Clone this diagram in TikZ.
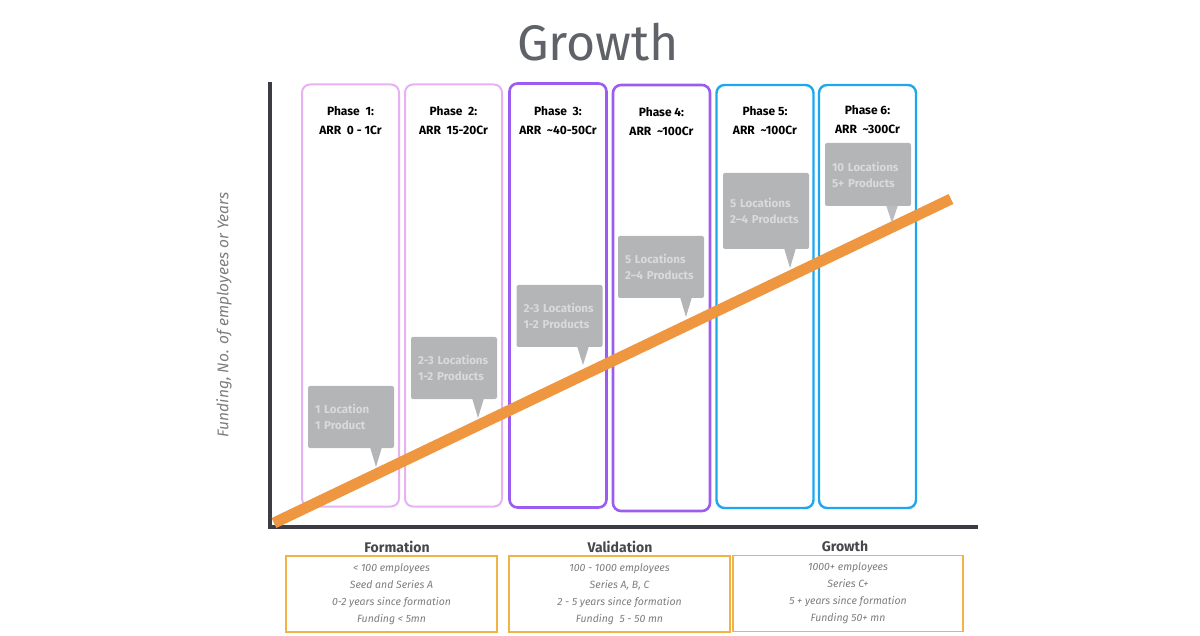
\documentclass[tikz,border=0pt]{standalone}
\usepackage{fontspec}
\setmainfont{Fira Sans}
\definecolor{axisc}{RGB}{60,60,68}
\definecolor{pinkc}{RGB}{230,178,242}
\definecolor{purplec}{RGB}{155,92,240}
\definecolor{cyanc}{RGB}{30,168,236}
\definecolor{calloutc}{RGB}{180,181,183}
\definecolor{callouttext}{RGB}{218,218,218}
\definecolor{orangeline}{RGB}{239,150,64}
\definecolor{orangebox}{RGB}{240,180,70}
\definecolor{titlec}{RGB}{95,98,104}
\definecolor{bodyc}{RGB}{125,125,125}
\definecolor{headc}{RGB}{70,72,78}
\begin{document}
\begin{tikzpicture}[x=1pt,y=-1pt,
  phasebox/.style={draw, rounded corners=8pt, minimum width=97pt, minimum height=422pt, inner sep=0pt},
  phasetext/.style={font=\fontsize{12}{19}\selectfont\bfseries, align=center, text=black},
  callout/.style={fill=calloutc, rounded corners=2pt, minimum width=86pt, minimum height=62pt, text width=72pt, inner xsep=7pt, inner ysep=0pt, align=left, text=callouttext, font=\fontsize{11.5}{16}\selectfont\bfseries},
  pointer/.style={fill=calloutc},
  stagehead/.style={font=\fontsize{14}{16}\selectfont\bfseries, text=headc},
  stagebox/.style={draw=orangebox, line width=1.3pt, minimum height=76pt, inner sep=0pt, align=center, text=bodyc, font=\fontsize{10.5}{17}\selectfont\itshape},
  axisline/.style={draw=axisc, line width=4.5pt},
  growline/.style={draw=orangeline, line width=11pt}
]
\useasboundingbox (0,0) rectangle (1200,636);
% title
\node[text=titlec, font=\fontsize{50}{60}\selectfont] (title) at (598,42) {Growth};
% y axis label
\node[rotate=90, text=bodyc, font=\fontsize{15.5}{18}\selectfont\itshape] (ylab) at (224,315) {Funding, No. of employees or Years};
% phase boxes
\node[phasebox, draw=pinkc, line width=2pt] (p1) at (350.5,295.5) {};
\node[phasebox, draw=pinkc, line width=2pt] (p2) at (453.5,295.5) {};
\node[phasebox, draw=purplec, line width=2.6pt, minimum height=424pt] (p3) at (558,295.5) {};
\node[phasebox, draw=purplec, line width=2.6pt, minimum height=426pt] (p4) at (661.5,298) {};
\node[phasebox, draw=cyanc, line width=2.4pt, minimum height=423pt] (p5) at (765,296.5) {};
\node[phasebox, draw=cyanc, line width=2.4pt, minimum height=423pt] (p6) at (867.5,296.5) {};
% phase texts
\node[phasetext] (t1) at (350.5,120.5) {Phase~~1:\\ARR~~0 - 1Cr};
\node[phasetext] (t2) at (453.5,120.5) {Phase~~2:\\ARR~~15-20Cr};
\node[phasetext] (t3) at (558,120.5) {Phase~~3:\\ARR~~\textasciitilde40-50Cr};
\node[phasetext] (t4) at (661.5,121.5) {Phase 4:\\ARR~~\textasciitilde100Cr};
\node[phasetext] (t5) at (765,120.5) {Phase 5:\\ARR~~\textasciitilde100Cr};
\node[phasetext] (t6) at (867.5,119.5) {Phase 6:\\ARR~~\textasciitilde300Cr};
% axes
\coordinate (ytop) at (270,82);
\coordinate (origin) at (270,527);
\coordinate (xend) at (978,527);
\draw[axisline] (ytop) -- (origin) -- (xend);
% growth line
\coordinate (g1) at (274,523);
\coordinate (g2) at (951,199);
\draw[growline] (g1) -- (g2);
% callouts
\node[callout] (c1) at (351,417) {1 Location\\1 Product};
\coordinate (k1) at (376,467);
\fill[pointer] (370,447) -- (k1) -- (382,447) -- cycle;
\node[callout] (c2) at (454,368) {2-3 Locations\\1-2 Products};
\coordinate (k2) at (478,418);
\fill[pointer] (472,398) -- (k2) -- (484,398) -- cycle;
\node[callout] (c3) at (559.5,316) {2-3 Locations\\1-2 Products};
\coordinate (k3) at (583,365);
\fill[pointer] (577,346) -- (k3) -- (589,346) -- cycle;
\node[callout] (c4) at (661,267) {5 Locations\\2\textendash4 Products};
\coordinate (k4) at (686,317);
\fill[pointer] (680,297) -- (k4) -- (692,297) -- cycle;
\node[callout, minimum height=76pt] (c5) at (766,211) {5 Locations\\2\textendash4 Products};
\coordinate (k5) at (790,268);
\fill[pointer] (784,248) -- (k5) -- (796,248) -- cycle;
\node[callout, minimum height=63pt] (c6) at (868,174.5) {10 Locations\\5+ Products};
\coordinate (k6) at (892,223);
\fill[pointer, opacity=0.9] (886,205) -- (k6) -- (898,205) -- cycle;
% stages
\node[stagehead] (h1) at (397,547) {Formation};
\node[stagehead] (h2) at (620,547) {Validation};
\node[stagehead] (h3) at (845,546) {Growth};
\node[stagebox, minimum width=211pt] (s1) at (391.5,594) {< 100 employees\\Seed and Series A\\0-2 years since formation\\Funding < 5mn};
\node[stagebox, minimum width=221pt] (s2) at (619.5,594) {100 - 1000 employees\\Series A, B, C\\2 - 5 years since formation\\Funding~~5 - 50 mn};
\node[stagebox, minimum width=230pt] (s3) at (848,593.5) {1000+ employees\\Series C+\\5 + years since formation\\Funding 50+ mn};
\end{tikzpicture}
\end{document}
